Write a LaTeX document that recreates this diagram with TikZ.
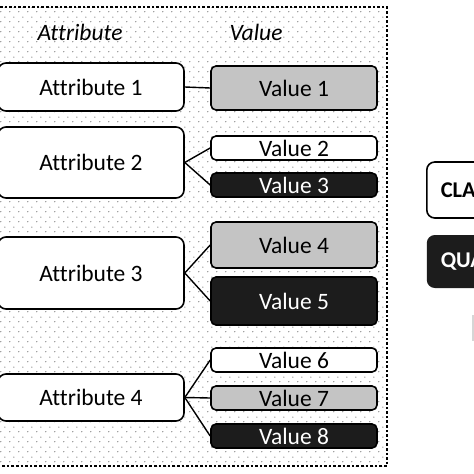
\documentclass[tikz,border=0pt]{standalone}
\usepackage{fontspec}
\setmainfont{Carlito}[Ligatures=NoCommon]
\usetikzlibrary{patterns.meta}
\definecolor{valgray}{HTML}{C4C4C4}
\definecolor{valblack}{HTML}{1C1C1C}
\pgfdeclarepattern{
  name=stagdots,
  type=uncolored,
  bottom left={\pgfpoint{0pt}{0pt}},
  top right={\pgfpoint{9pt}{10pt}},
  tile size={\pgfpoint{9pt}{10pt}},
  code={
    \pgfpathcircle{\pgfpoint{2pt}{2.5pt}}{0.75pt}
    \pgfpathcircle{\pgfpoint{6.5pt}{7.5pt}}{0.75pt}
    \pgfusepath{fill}
  }
}

\begin{document}
\begin{tikzpicture}[
    x=1pt, y=-1pt,
    bigfont/.style={font=\fontsize{23.5}{28}\selectfont},
    head/.style={font=\fontsize{23.5}{28}\selectfont\itshape},
    frame/.style={line width=2.6pt, dash pattern=on 2.6pt off 2pt,
        pattern=stagdots, pattern color=gray},
    attr/.style={draw, rounded corners=8pt, line width=1.6pt, fill=white,
        minimum width=186pt, inner sep=0pt, bigfont},
    val/.style={draw, rounded corners=5pt, line width=1.6pt,
        minimum width=166pt, minimum height=24pt, inner sep=0pt, bigfont},
    whiteval/.style={val, fill=white},
    greyval/.style={val, fill=valgray},
    darkval/.style={val, fill=valblack, text=white},
    kind/.style={rounded corners=8pt, line width=1.6pt, anchor=west,
        text width=80pt, align=left, inner xsep=14pt, inner ysep=0pt,
        font=\fontsize{22.5}{27}\selectfont\bfseries},
    link/.style={line width=1.4pt}
    ]
\useasboundingbox (0,0) rectangle (474,474);
\fill[white] (0,0) rectangle (474,474);
\clip (0,0) rectangle (474,474);
% dotted frame
\draw[frame] (-8,7) rectangle (387,466);

\node[head] (hattr) at (80,32) {Attribute};
\node[head] (hval) at (256,32) {Value};

% attributes
\node[attr, minimum height=48pt] (a1) at (91,87) {Attribute 1};
\node[attr, minimum height=71pt] (a2) at (91,162.5) {Attribute 2};
\node[attr, minimum height=72pt] (a3) at (91,273) {Attribute 3};
\node[attr, minimum height=47pt] (a4) at (91,397.5) {Attribute 4};

% values
\node[greyval, minimum height=44pt] (v1) at (294,88) {Value 1};
\node[whiteval] (v2) at (294,148) {Value 2};
\node[darkval] (v3) at (294,185) {Value 3};
\node[greyval, minimum height=46pt] (v4) at (294,245) {Value 4};
\node[darkval, minimum height=48pt] (v5) at (294,301) {Value 5};
\node[whiteval] (v6) at (294,360) {Value 6};
\node[greyval] (v7) at (294,398) {Value 7};
\node[darkval] (v8) at (294,436) {Value 8};

\draw[link] (a1.east) -- (v1.west);
\draw[link] (a2.east) -- (v2.west);
\draw[link] (a2.east) -- (v3.west);
\draw[link] (a3.east) -- (v4.west);
\draw[link] (a3.east) -- (v5.west);
\draw[link] (a4.east) -- (v6.west);
\draw[link] (a4.east) -- (v7.west);
\draw[link] (a4.east) -- (v8.west);

% right column
\node[kind, draw, fill=white, minimum height=56pt] (cla) at (426,190) {CLA};
\node[kind, fill=valblack, text=white, minimum height=53pt] (qua) at (426,261.5) {QUA};
\node[fill=valgray!70, anchor=west, minimum width=20pt, minimum height=26pt,
    inner sep=0pt] (rest) at (471.5,328) {};
\end{tikzpicture}
\end{document}
